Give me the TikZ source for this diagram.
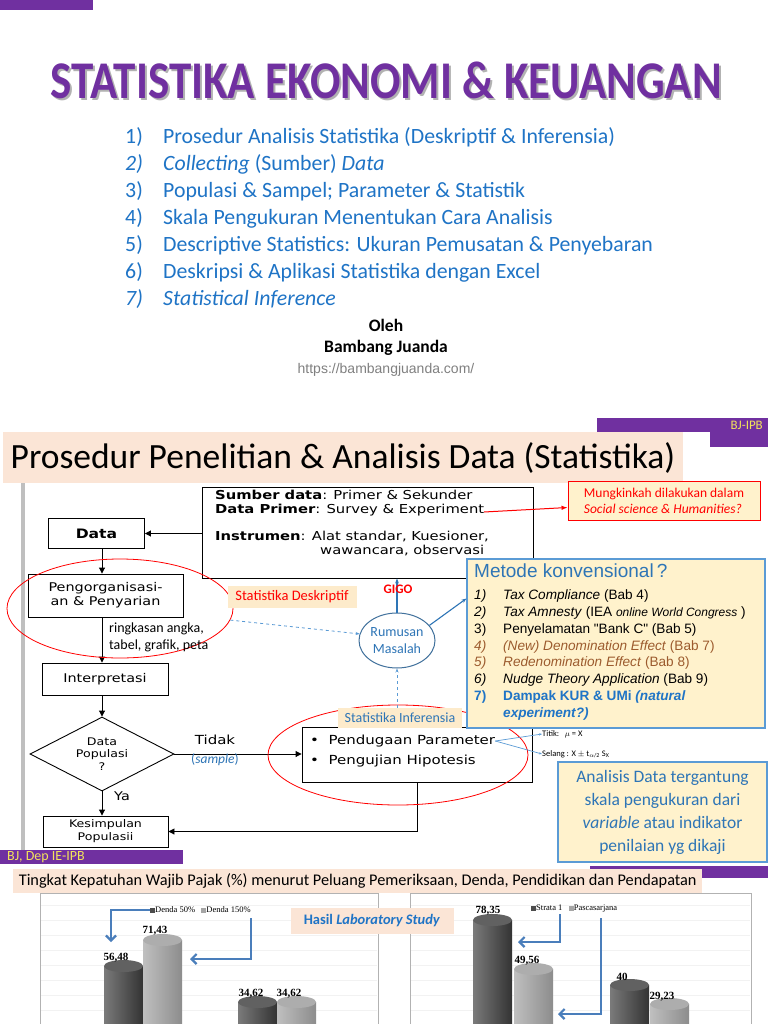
\documentclass[tikz,border=0pt]{standalone}
\usepackage{fontspec}
\setmainfont{Carlito}
\newfontfamily\verdfont[FakeStretch=1.2]{DejaVu Sans}
\newfontfamily\arialfont{Liberation Sans}
\newfontfamily\romanfont{Liberation Serif}
\usepackage{tikz}
\usetikzlibrary{arrows.meta,positioning,shapes.geometric}

\definecolor{ungu}{HTML}{7030A0}
\definecolor{biru}{HTML}{1F74C6}
\definecolor{biru2}{HTML}{2E75B6}
\definecolor{birumuda}{HTML}{5B9BD5}
\definecolor{birugaris}{HTML}{41719C}
\definecolor{birupanah}{HTML}{4A7EBB}
\definecolor{krem}{HTML}{FBE5D6}
\definecolor{krem2}{HTML}{FDEBCB}
\definecolor{kuning}{HTML}{FFF2CC}
\definecolor{coklat}{HTML}{9C5B2E}
\definecolor{kuningteks}{HTML}{F2E35B}

\newcommand{\fs}[2]{\fontsize{#1}{#2}\selectfont}
\newcommand{\mitem}[2]{\makebox[29pt][l]{#1}#2}

\begin{document}
\begin{tikzpicture}[x=1pt, y=-1pt,
  flowbox/.style={draw, line width=0.9pt, font=\verdfont\fs{12}{14}, align=center, inner sep=0pt},
  flowarr/.style={-{Triangle[length=6pt,width=6pt]}, line width=0.9pt},
  redoval/.style={ellipse, draw=red, line width=0.8pt, inner sep=0pt},
  bluearr/.style={-{Stealth[length=5pt]}, draw=biru2, line width=1.1pt},
  dasharr/.style={-{Stealth[length=4pt]}, draw=birumuda, dashed, line width=0.8pt},
  thinarr/.style={-{Stealth[length=3pt]}, draw=birumuda, line width=0.7pt},
  chartarr/.style={-{Straight Barb[length=5pt,width=10pt]}, draw=birupanah, line width=2.2pt},
  infobox/.style={draw=birumuda, fill=kuning, line width=1.1pt, inner sep=0pt}]
\useasboundingbox (0,0) rectangle (768,1024);
\fill[white] (0,0) rectangle (768,1024);

% ---- slide 1 ----
\fill[ungu] (0,0) rectangle (93,10);
\node[font=\bfseries\fs{53}{53}, text=black!30] at (388,82) {\scalebox{0.85}[1]{STATISTIKA EKONOMI \& KEUANGAN}};
\node[font=\bfseries\fs{53}{53}, text=ungu] (judul) at (386,80) {\scalebox{0.85}[1]{STATISTIKA EKONOMI \& KEUANGAN}};

\foreach \nomor/\isi [count=\i] in {
  1)/{Prosedur Analisis Statistika (Deskriptif \& Inferensia)},
  \textit{2)}/{\textit{Collecting} (Sumber) \textit{Data}},
  3)/{Populasi \& Sampel; Parameter \& Statistik},
  4)/{Skala Pengukuran Menentukan Cara Analisis},
  5)/{Descriptive Statistics: Ukuran Pemusatan \& Penyebaran},
  6)/{Deskripsi \& Aplikasi Statistika dengan Excel},
  \textit{7)}/{\textit{Statistical Inference}}}
  \node[anchor=west, inner sep=0, text=biru, font=\fs{21.8}{24}] (topik\i) at (125,110+27*\i) {\makebox[38pt][l]{\nomor}\isi};

\node[font=\bfseries\fs{17.5}{18}] (oleh) at (386,325) {Oleh};
\node[font=\bfseries\fs{17.5}{18}] (penulis) at (386,348) {Bambang Juanda};
\node[font=\arialfont\fs{14}{16}, text=black!50] (url) at (386,370) {https://bambangjuanda.com/};

% ---- slide 2 ----
\fill[ungu] (597,418) rectangle (768,432);
\node[anchor=east, inner sep=0, text=kuningteks, font=\fs{13}{14}] (bjipb) at (763,425) {BJ-IPB};
\fill[ungu] (710,432) rectangle (768,447);
\node[fill=krem, minimum width=680pt, minimum height=51pt, inner sep=0, font=\fs{35.5}{40}] (judul2) at (343,457.5) {Prosedur Penelitian \& Analisis Data (Statistika)};
\fill[black!25] (21,483) rectangle (25,850);

% flowchart
\coordinate (spine) at (102,0);
\node[flowbox, minimum width=96pt, minimum height=30pt, font=\verdfont\bfseries\fs{13}{15}] (data) at (96.5,533.5) {Data};
\node[flowbox, minimum width=155pt, minimum height=43pt] (peng) at (105.5,595.5) {Pengorganisasi-\\an \& Penyarian};
\node[flowbox, minimum width=126pt, minimum height=32pt] (interp) at (105,679) {Interpretasi};
\node[flowbox, diamond, aspect=2, minimum width=144pt, minimum height=74pt, font=\verdfont\fs{10.5}{12.5}] (dia) at (102,754) {Data\\Populasi\\?};
\node[flowbox, minimum width=125pt, minimum height=31pt, font=\verdfont\fs{10.5}{13}] (kes) at (105.5,831.5) {Kesimpulan\\Populasii};
\node[flowbox, minimum width=331pt, minimum height=91pt] (src) at (368,532.5) {};
\node[anchor=north west, align=left, inner sep=0, font=\verdfont\fs{12.3}{13.8}] (srctxt) at (215,490) {%
  \textbf{Sumber data}: Primer \& Sekunder\\
  \textbf{Data Primer}: Survey \& Experiment\\[13.8pt]
  \textbf{Instrumen}: Alat standar, Kuesioner,\\
  \hspace*{105pt}wawancara, observasi};
\coordinate (expend) at (484,512);
\node[draw=red, fill=kuning, line width=0.9pt, minimum width=192pt, minimum height=39pt, inner sep=0, align=left, text=red, font=\fs{13.5}{16}] (qbox) at (664,500.5) {Mungkinkah dilakukan dalam\\\textit{Social science \& Humanities?}};
\draw[-{Latex[length=6pt]}, red, line width=1pt] (expend) -- ([yshift=-7pt]qbox.west);

\draw[flowarr] (src.west |- data.east) -- (data.east);
\draw[flowarr] (data.south -| spine) -- (peng.north -| spine);
\draw[flowarr] (peng.south -| spine) -- (interp.north -| spine);
\draw[flowarr] (interp.south -| spine) -- (dia.north);
\draw[flowarr] (dia.south) -- (kes.north -| spine);
\node[font=\verdfont\fs{12}{14}] (ya) at (122,796) {Ya};

\node[redoval, minimum width=226pt, minimum height=99pt] (descell) at (120,608.5) {};
\node[fill=krem2, text=red, inner sep=0, minimum width=129pt, minimum height=22pt, font=\fs{14.5}{16}] (descl) at (292,597) {Statistika Deskriptif};
\node[anchor=north west, align=left, inner sep=0, font=\fs{14}{16.5}] (ringkas) at (109,623) {ringkasan angka,\\tabel, grafik, peta};

\node[ellipse, draw=birugaris, line width=1pt, minimum width=76pt, minimum height=55pt, inner sep=0, align=center, text=biru2, font=\fs{14}{17}] (rum) at (397,640.5) {Rumusan\\Masalah};
\draw[bluearr] (rum.north) -- (rum.north |- src.south);
\node[text=red, font=\bfseries\fs{13}{14}] (gigo) at (398,589) {GIGO};
\draw[dasharr] (descell.-6) -- (rum.170);

% estimasi & uji
\node[flowbox, minimum width=230pt, minimum height=55pt] (estbox) at (417,754.5) {};
\node[anchor=west, inner sep=0, font=\verdfont\fs{12.5}{14}] (par) at (310,741) {\textbullet\ \ Pendugaan Parameter};
\node[anchor=west, inner sep=0, font=\verdfont\fs{12.5}{14}] (hip) at (310,761) {\textbullet\ \ Pengujian Hipotesis};
\draw[flowarr] (dia.east) -- (dia.east -| estbox.west);
\draw[flowarr] (estbox.south) |- (kes.east);
\node[font=\verdfont\fs{12.5}{14}] (tidak) at (215,740) {Tidak};
\node[text=biru2, font=\fs{13.5}{15}] (sampel) at (215,760) {(\textit{sample})};
\node[redoval, minimum width=260pt, minimum height=100pt] (infell) at (398,755) {};

\node[anchor=west, inner sep=0, font=\fs{8.5}{10}] (titik) at (542,734) {Titik:\ \ \ $\mu$ = X};
\node[anchor=west, inner sep=0, font=\fs{8.5}{10}] (selang) at (542,754) {Selang : X $\pm$ t\textsubscript{$\alpha$/2} S\textsubscript{X}};
\draw[thinarr] (par.east) -- (titik.west);
\draw[thinarr] (par.east) -- (selang.west);

% metode konvensional
\node[infobox, minimum width=298pt, minimum height=169pt] (metode) at (616,643.5) {};
\node[anchor=north west, align=left, inner sep=0, font=\arialfont\fs{13.6}{16.8}] (mlist) at (474,564) {%
  {\color{biru2}\fs{19}{20}Metode konvensional\,?}\\[5pt]
  \mitem{\textit{1)}}{\textit{Tax Compliance} (Bab 4)}\\
  \mitem{\textit{2)}}{\textit{Tax Amnesty} (IEA {\fs{12}{16.8}\textit{online World Congress}} )}\\
  \mitem{3)}{Penyelamatan "Bank C" (Bab 5)}\\
  {\color{coklat}\mitem{\textit{4)}}{\textit{(New) Denomination Effect} (Bab 7)}}\\
  {\color{coklat}\mitem{\textit{5)}}{\textit{Redenomination Effect} (Bab 8)}}\\
  \mitem{\textit{6)}}{\textit{Nudge Theory Application} (Bab 9)}\\
  {\color{biru}\bfseries\mitem{7)}{Dampak KUR \& UMi \textit{(natural}}}\\
  {\color{biru}\bfseries\mitem{}{\textit{experiment?)}}}};
\draw[bluearr] (rum.25) -- ([yshift=45pt]metode.west);
\node[fill=krem2, text=biru2, inner sep=0, minimum width=124pt, minimum height=20pt, font=\fs{14}{16}] (infl) at (400,718) {Statistika Inferensia};
\draw[dasharr] (infl.north -| rum.south) -- (rum.south);

\node[infobox, minimum width=209pt, minimum height=100pt, align=center, text=biru2, font=\fs{17.5}{23}] (anbox) at (662.5,812) {Analisis Data tergantung\\skala pengukuran dari\\\textit{variable} atau indikator\\penilaian yg dikaji};

\fill[ungu] (0,850) rectangle (183,864);
\node[anchor=west, inner sep=0, text=kuningteks, font=\fs{14}{15}] (bjdep) at (7,857) {BJ, Dep IE-IPB};

% ---- grafik kepatuhan pajak ----
\fill[ungu] (590,866) rectangle (768,878);
\node[fill=krem, anchor=west, minimum width=689pt, minimum height=24pt, inner sep=0, font=\fs{16.3}{17}] (capt) at (13,881) {Tingkat Kepatuhan Wajib Pajak (\%) menurut Peluang Pemeriksaan, Denda, Pendidikan dan Pendapatan};
\foreach \gy in {905,920,...,1020} {
  \draw[black!5] (41,\gy) -- (377,\gy);
  \draw[black!5] (411,\gy) -- (750,\gy);
}
\draw[black!30, line width=0.8pt] (40,1030) |- (378,893) -- (378,1030);
\draw[black!30, line width=0.8pt] (410,1030) |- (751,893) -- (751,1030);

\foreach \bx/\by/\ca/\cb/\ct/\lx/\ly/\val in {
  104/966/black!52/black!80/black!62/116/958/{56,48},
  143/940/black!25/black!45/black!32/155/931/{71,43},
  238/1002/black!52/black!80/black!62/251/994/{34,62},
  277/1002/black!25/black!45/black!32/289/994/{34,62},
  473/920/black!52/black!80/black!62/488/911/{78,35},
  514/969/black!25/black!45/black!32/527/961/{49,56},
  610/985/black!52/black!80/black!62/622/977/{40},
  650/1004/black!25/black!45/black!32/662/997/{29,23}} {
  \shade[left color=\ca, right color=\cb] (\bx,\by) rectangle (\bx+39,1024);
  \fill[\ct] (\bx+19.5,\by) ellipse [x radius=19.5pt, y radius=6pt];
  \node[font=\romanfont\bfseries\fs{11}{12}] at (\lx,\ly) {\val};
}

\node[anchor=west, inner sep=0, font=\romanfont\fs{8.5}{10}] (leg1) at (150,910) {\textcolor{black!70}{\rule{5pt}{5pt}}Denda 50\%\ \ \ \textcolor{black!35}{\rule{5pt}{5pt}}Denda 150\%};
\node[anchor=west, inner sep=0, font=\romanfont\fs{8.5}{10}] (leg2) at (531,909) {\textcolor{black!70}{\rule{5pt}{5pt}}Strata 1\ \ \ \textcolor{black!35}{\rule{5pt}{5pt}}Pascasarjana};
\node[fill=krem, text=biru, inner sep=0, minimum width=163pt, minimum height=26pt, font=\bfseries\fs{14.5}{16}] (hasil) at (372,921) {Hasil \textit{Laboratory Study}};

\coordinate (p1) at (111,942);
\coordinate (p2a) at (251,918);
\coordinate (p2) at (190,959);
\coordinate (q1a) at (560,914);
\coordinate (q1) at (518,942);
\coordinate (q2a) at (601,918);
\coordinate (q2) at (558,1014);
\draw[chartarr] (leg1.west) -| (p1);
\draw[chartarr] (p2a) |- (p2);
\draw[chartarr] (q1a) |- (q1);
\draw[chartarr] (q2a) |- (q2);
\end{tikzpicture}
\end{document}
